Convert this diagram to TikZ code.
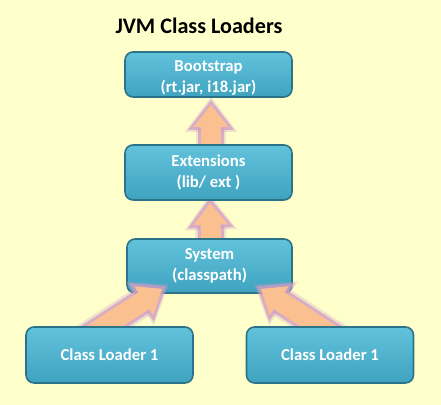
\documentclass[tikz,border=0pt]{standalone}
\usepackage{fontspec}
\setmainfont{Carlito}
\usetikzlibrary{arrows.meta}
\definecolor{paper}{HTML}{FFFFCC}
\definecolor{boxtop}{HTML}{62C2DC}
\definecolor{boxbot}{HTML}{3FA3BF}
\definecolor{boxrim}{HTML}{2A7389}
\definecolor{peach}{HTML}{FAC08F}
\definecolor{glow}{HTML}{D09CC4}
\pgfdeclarelayer{bg}
\pgfdeclarelayer{back}
\pgfdeclarelayer{front}
\pgfsetlayers{bg,back,main,front}
\tikzset{
  loader/.style={rectangle, rounded corners=0.16cm, top color=boxtop, bottom color=boxbot,
    draw=boxrim, line width=0.9pt, text=white, font=\bfseries\fontsize{9.5}{12}\selectfont,
    align=center, minimum width=3.34cm, minimum height=1.1cm, inner sep=0pt},
  halo/.style={line width=0.62cm, glow, opacity=0.3, shorten >=-0.16cm, -{Triangle[width=1cm, length=0.7cm]}},
  fatglow/.style={line width=0.52cm, glow, opacity=0.75, shorten >=-0.1cm, -{Triangle[width=0.88cm, length=0.6cm]}},
  fat/.style={line width=0.40cm, peach, -{Triangle[width=0.66cm, length=0.44cm]}}
}

\begin{document}
\begin{tikzpicture}[x=0.02cm, y=0.02cm]
\begin{pgfonlayer}{bg}
\path[fill=paper] (0,0) rectangle (441,405);
\end{pgfonlayer}
\node[font=\bfseries\fontsize{12.6}{15}\selectfont] (title) at (199,379) {JVM Class Loaders};
\node[loader, minimum height=0.9cm] (boot) at (208.5,330.5) {\rule{0pt}{10pt}Bootstrap\\(rt.jar, i18.jar)};
\node[loader] (ext) at (208.5,232.5) {Extensions\\(lib/ ext )};
\node[loader, minimum width=3.3cm, minimum height=1.08cm] (sys) at (209.5,139) {System\\(classpath)};
\begin{pgfonlayer}{front}
\node[loader, minimum height=1.12cm] (cl1) at (109.5,50) {Class Loader 1};
\node[loader, minimum height=1.12cm] (cl2) at (330,50) {Class Loader 1};
\end{pgfonlayer}
\begin{pgfonlayer}{back}
\foreach \s in {halo,fatglow,fat} {
  \draw[\s] ([shift={(2.5,0)}]ext.north) -- ([shift={(2.5,-7)}]boot.south);
  \draw[\s] ([shift={(1.5,0)}]sys.north) -- ([shift={(1.5,-2)}]ext.south);
}
\end{pgfonlayer}
\foreach \s in {halo,fatglow,fat} {
  \draw[\s] ([shift={(-25,-13)}]cl1.north) -- ([shift={(36,5)}]sys.south west);
  \draw[\s] ([shift={(8.5,-13)}]cl2.north) -- ([shift={(-32,5)}]sys.south east);
}
\end{tikzpicture}
\end{document}
